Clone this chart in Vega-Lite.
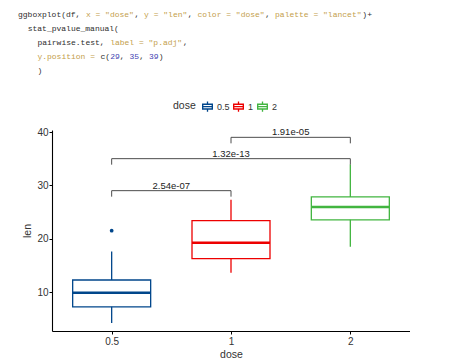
{
  "$schema": "https://vega.github.io/schema/vega-lite/v6.json",
  "padding": {"left": 17, "top": 11, "right": 0, "bottom": 0},
  "background": "white",
  "config": {"view": {"stroke": null}, "font": "Liberation Sans"},
  "width": 358,
  "height": 201,
  "resolve": {"scale": {"x": "independent", "y": "independent"}, "axis": {"x": "independent", "y": "independent"}},
  "datasets": {
    "codelines": [
      {"line": 1, "col": 0, "t": "ggboxplot(df,", "k": "c"},
      {"line": 1, "col": 14, "t": "x = \"dose\"", "k": "a"},
      {"line": 1, "col": 24, "t": ",", "k": "c"},
      {"line": 1, "col": 26, "t": "y = \"len\"", "k": "a"},
      {"line": 1, "col": 35, "t": ",", "k": "c"},
      {"line": 1, "col": 37, "t": "color = \"dose\"", "k": "a"},
      {"line": 1, "col": 51, "t": ",", "k": "c"},
      {"line": 1, "col": 53, "t": "palette = \"lancet\"", "k": "a"},
      {"line": 1, "col": 71, "t": ")+", "k": "c"},
      {"line": 2, "col": 2, "t": "stat_pvalue_manual(", "k": "c"},
      {"line": 3, "col": 4, "t": "pairwise.test,", "k": "c"},
      {"line": 3, "col": 19, "t": "label = \"p.adj\"", "k": "a"},
      {"line": 3, "col": 34, "t": ",", "k": "c"},
      {"line": 4, "col": 4, "t": "y.position =", "k": "a"},
      {"line": 4, "col": 17, "t": "c(", "k": "c"},
      {"line": 4, "col": 19, "t": "29", "k": "n"},
      {"line": 4, "col": 21, "t": ",", "k": "c"},
      {"line": 4, "col": 23, "t": "35", "k": "n"},
      {"line": 4, "col": 25, "t": ",", "k": "c"},
      {"line": 4, "col": 27, "t": "39", "k": "n"},
      {"line": 4, "col": 29, "t": ")", "k": "c"},
      {"line": 5, "col": 4, "t": ")", "k": "c"}
    ],
    "boxes": [
      {"dose": "0.5", "lower": 4.2, "q1": 7.225, "median": 9.85, "q3": 12.25, "upper": 17.6},
      {"dose": "1", "lower": 13.6, "q1": 16.25, "median": 19.25, "q3": 23.375, "upper": 27.3},
      {"dose": "2", "lower": 18.5, "q1": 23.525, "median": 25.95, "q3": 27.825, "upper": 33.9}
    ],
    "outliers": [{"dose": "0.5", "len": 21.5}],
    "brackets": [
      {"group1": "0.5", "group2": "1", "mid": "0.5|1", "y": 29, "label": "2.54e-07"},
      {"group1": "0.5", "group2": "2", "mid": "1", "y": 35, "label": "1.32e-13"},
      {"group1": "1", "group2": "2", "mid": "1|2", "y": 39, "label": "1.91e-05"}
    ]
  },
  "layer": [
    {
      "layer": [
        {
          "data": {"name": "codelines"},
          "transform": [{"filter": "datum.k == 'c'"}],
          "mark": {"type": "text", "align": "left", "baseline": "middle", "font": "Liberation Mono", "fontSize": 8, "color": "#2d2d2d", "clip": false},
          "encoding": {
            "x": {"field": "col", "type": "quantitative", "scale": {"domain": [7.01, 80.82], "nice": false, "zero": false}, "axis": null},
            "y": {"field": "line", "type": "quantitative", "scale": {"domain": [9.214, 23.571], "nice": false, "zero": false, "reverse": true}, "axis": null},
            "text": {"field": "t"}
          }
        },
        {
          "data": {"name": "codelines"},
          "transform": [{"filter": "datum.k == 'a'"}],
          "mark": {"type": "text", "align": "left", "baseline": "middle", "font": "Liberation Mono", "fontSize": 8, "color": "#c4a04c", "clip": false},
          "encoding": {
            "x": {"field": "col", "type": "quantitative"},
            "y": {"field": "line", "type": "quantitative"},
            "text": {"field": "t"}
          }
        },
        {
          "data": {"name": "codelines"},
          "transform": [{"filter": "datum.k == 'n'"}],
          "mark": {"type": "text", "align": "left", "baseline": "middle", "font": "Liberation Mono", "fontSize": 8, "color": "#4646b4", "clip": false},
          "encoding": {
            "x": {"field": "col", "type": "quantitative"},
            "y": {"field": "line", "type": "quantitative"},
            "text": {"field": "t"}
          }
        }
      ]
    },
    {
      "layer": [
        {
          "data": {"name": "boxes"},
          "mark": {"type": "bar", "fill": "white", "strokeWidth": 1.3, "width": 78},
          "encoding": {
            "x": {
              "field": "dose", "type": "ordinal",
              "scale": {"type": "point", "domain": ["0.5", "0.5|1", "1", "1|2", "2"], "padding": 1.2},
              "axis": {"title": "dose", "orient": "bottom", "values": ["0.5", "1", "2"], "labelAngle": 0, "domainColor": "black", "domainWidth": 1.1, "tickColor": "black", "tickSize": 3, "labelFontSize": 10, "labelColor": "#333", "labelPadding": 2, "titleFontSize": 10.5, "titleFontWeight": "normal", "titleColor": "#333", "titlePadding": 3, "grid": false}
            },
            "y": {
              "field": "q1", "type": "quantitative",
              "scale": {"domain": [2.69, 40.375], "nice": false, "zero": false},
              "axis": {"title": "len", "orient": "left", "values": [10, 20, 30, 40], "domainColor": "black", "domainWidth": 1.1, "tickColor": "black", "tickSize": 3, "labelFontSize": 10, "labelColor": "#333", "labelPadding": 1, "titleFontSize": 10.5, "titleFontWeight": "normal", "titleColor": "#333", "titlePadding": 4, "grid": false}
            },
            "y2": {"field": "q3"},
            "stroke": {
              "field": "dose", "type": "nominal",
              "scale": {"domain": ["0.5", "1", "2"], "range": ["#00468B", "#ED0000", "#42B540"]},
              "legend": {
                "orient": "none", "legendX": 121, "legendY": -29, "direction": "horizontal",
                "title": "dose", "titleOrient": "left", "titleFontSize": 10.5, "titleFontWeight": "normal", "titleColor": "#333", "titlePadding": 6,
                "labelFontSize": 9, "labelColor": "#333", "labelOffset": 4, "columnPadding": 3,
                "symbolSize": 121, "symbolStrokeWidth": 0,
                "symbolType": "M-1,-0.55H1V0.55H-1Z M-0.75,-0.3V0.3H0.75V-0.3Z M-0.75,-0.12H0.75V0.12H-0.75Z M-0.12,-0.95H0.12V-0.55H-0.12Z M-0.12,0.55H0.12V0.95H-0.12Z"
              }
            }
          }
        },
        {
          "data": {"name": "boxes"},
          "mark": {"type": "rule", "strokeWidth": 1.3},
          "encoding": {
            "x": {"field": "dose", "type": "ordinal"},
            "y": {"field": "lower", "type": "quantitative"},
            "y2": {"field": "q1"},
            "stroke": {"field": "dose", "type": "nominal"}
          }
        },
        {
          "data": {"name": "boxes"},
          "mark": {"type": "rule", "strokeWidth": 1.3},
          "encoding": {
            "x": {"field": "dose", "type": "ordinal"},
            "y": {"field": "q3", "type": "quantitative"},
            "y2": {"field": "upper"},
            "stroke": {"field": "dose", "type": "nominal"}
          }
        },
        {
          "data": {"name": "boxes"},
          "mark": {"type": "tick", "size": 78, "thickness": 2.5, "opacity": 1},
          "encoding": {
            "x": {"field": "dose", "type": "ordinal"},
            "y": {"field": "median", "type": "quantitative"},
            "color": {
              "field": "dose", "type": "nominal",
              "scale": {"domain": ["0.5", "1", "2"], "range": ["#00468B", "#ED0000", "#42B540"]},
              "legend": null
            }
          }
        },
        {
          "data": {"name": "outliers"},
          "mark": {"type": "point", "filled": true, "size": 14, "opacity": 1},
          "encoding": {
            "x": {"field": "dose", "type": "ordinal"},
            "y": {"field": "len", "type": "quantitative"},
            "color": {"field": "dose", "type": "nominal", "legend": null}
          }
        },
        {
          "data": {"name": "brackets"},
          "mark": {"type": "rule", "stroke": "#4d4d4d", "strokeWidth": 1},
          "encoding": {
            "x": {"field": "group1", "type": "ordinal"},
            "x2": {"field": "group2"},
            "y": {"field": "y", "type": "quantitative"}
          }
        },
        {
          "data": {"name": "brackets"},
          "mark": {"type": "rule", "stroke": "#4d4d4d", "strokeWidth": 1, "y2Offset": 6},
          "encoding": {
            "x": {"field": "group1", "type": "ordinal"},
            "y": {"field": "y", "type": "quantitative"},
            "y2": {"field": "y"}
          }
        },
        {
          "data": {"name": "brackets"},
          "mark": {"type": "rule", "stroke": "#4d4d4d", "strokeWidth": 1, "y2Offset": 6},
          "encoding": {
            "x": {"field": "group2", "type": "ordinal"},
            "y": {"field": "y", "type": "quantitative"},
            "y2": {"field": "y"}
          }
        },
        {
          "data": {"name": "brackets"},
          "mark": {"type": "text", "fontSize": 9.5, "color": "#222", "baseline": "alphabetic", "dy": -2},
          "encoding": {
            "x": {"field": "mid", "type": "ordinal"},
            "y": {"field": "y", "type": "quantitative"},
            "text": {"field": "label"}
          }
        }
      ]
    }
  ]
}
